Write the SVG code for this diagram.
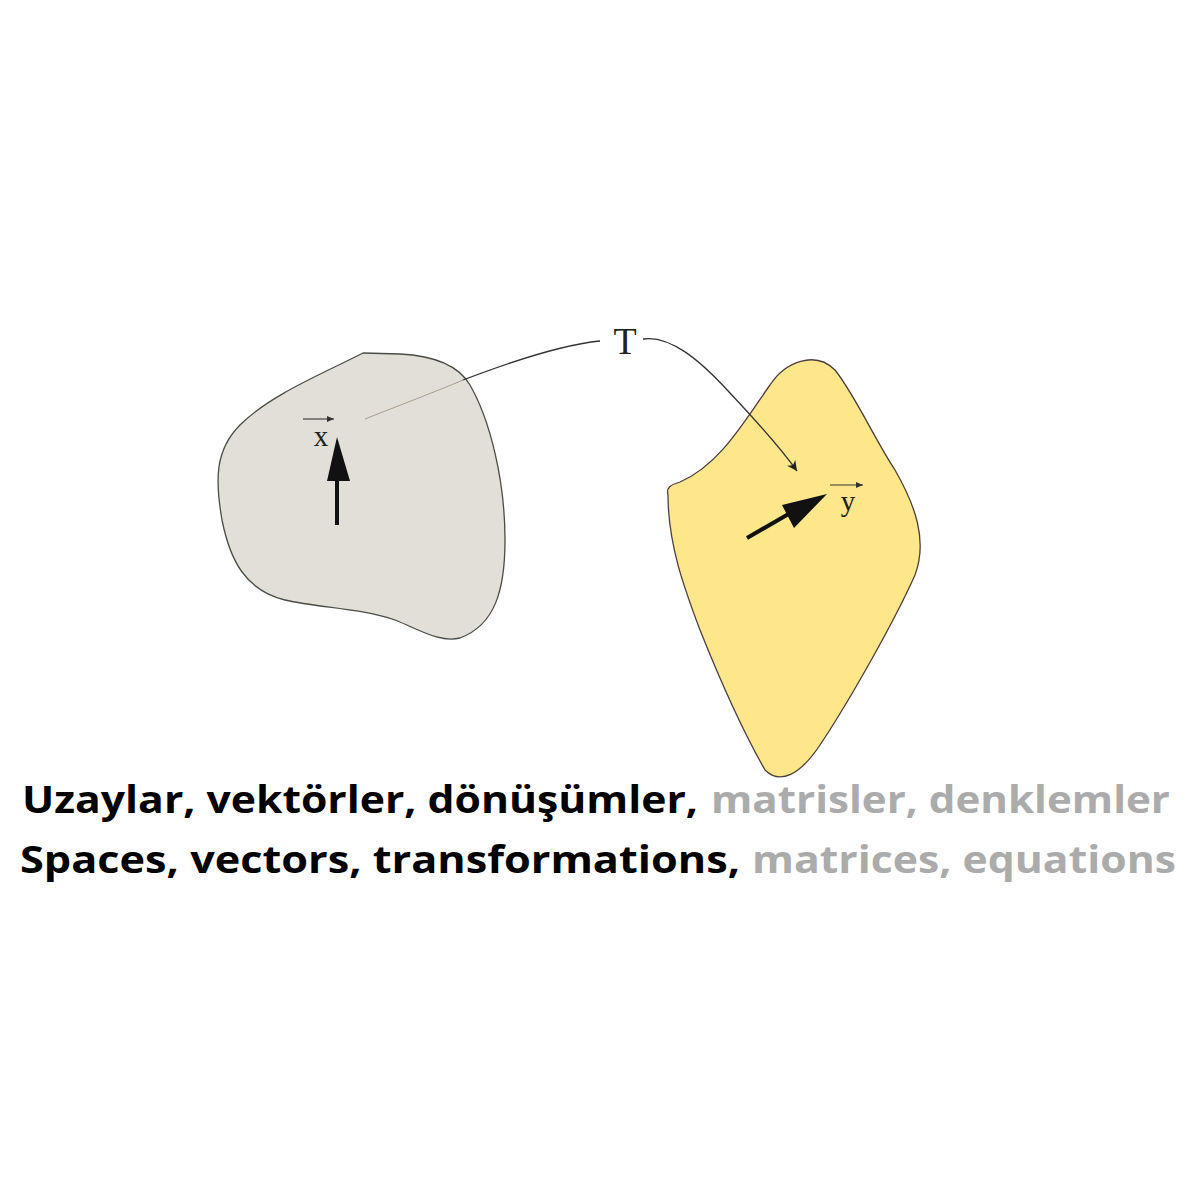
<svg xmlns="http://www.w3.org/2000/svg" width="1200" height="1200" viewBox="0 0 1200 1200">
<defs>
<style>
.sans{font-family:"Open Sans","Noto Sans",sans-serif;font-weight:bold;font-size:37px}
.blk{fill:#000}
.gry{fill:#ababab}
.serif{font-family:"Liberation Serif","Times New Roman",serif;fill:#222}
.thick{stroke:#111;stroke-width:4;fill:none}
.conn{stroke:#333;stroke-width:1.3;fill:none}
</style>
<marker id="ah" markerWidth="12" markerHeight="12" refX="10" refY="5" orient="auto" markerUnits="userSpaceOnUse">
<path d="M0,0 L10,5 L0,10 L3,5 Z" fill="#222"/>
</marker>
<marker id="sm" markerWidth="8" markerHeight="8" refX="7" refY="3" orient="auto" markerUnits="userSpaceOnUse">
<path d="M0,0 L7,3 L0,6 Z" fill="#333"/>
</marker>
</defs>
<rect width="1200" height="1200" fill="#fff"/>
<g id="space-x">
<path d="M363,353 L400,354 C440,356 460,368 470,385 C490,420 505,480 505,540 C505,590 495,625 460,638 C440,643 420,630 395,620 C360,608 320,608 285,600 C245,590 230,560 222,520 C215,480 215,450 240,425 C270,395 320,375 363,353 Z" fill="#e1dfd8" stroke="#4a4d44" stroke-width="1.3"/>
<line x1="337" y1="525" x2="337" y2="478" class="thick"/>
<path d="M327,481 L337,437 L350,481 Z" fill="#111"/>
<text x="321" y="446" class="serif" font-size="29" text-anchor="middle" fill="#555">x</text>
<line x1="303" y1="419" x2="334" y2="419" stroke="#444" stroke-width="1.2" marker-end="url(#sm)"/>
</g>
<g id="space-y">
<path d="M668,495 C666,488 670,485 680,482 C720,465 745,420 770,385 C785,362 815,350 835,370 C855,395 875,440 895,470 C915,505 928,540 915,575 C895,620 850,700 820,745 C800,775 780,785 765,770 C745,735 720,680 700,630 C685,590 668,545 668,495 Z" fill="#fee78a" stroke="#4d3f3f" stroke-width="1.3"/>
<line x1="747" y1="538" x2="792" y2="512" class="thick"/>
<path d="M782,505 L827,494 L794,528 Z" fill="#111"/>
<text x="848" y="511" class="serif" font-size="29" text-anchor="middle">y</text>
<line x1="830" y1="485" x2="863" y2="485" stroke="#333" stroke-width="1.2" marker-end="url(#sm)"/>
</g>
<g id="label-T">
<text x="625" y="354" class="serif" font-size="38" text-anchor="middle" fill="#111">T</text>
</g>
<g id="connectors">
<path d="M365,419 C400,405 435,392 463,380" stroke="#a89e90" stroke-width="1" fill="none"/>
<path d="M463,380 C510,362 560,345 600,341" class="conn"/>
<path d="M643,339 C670,335 700,360 730,393 C760,425 782,450 797,471" class="conn" marker-end="url(#ah)"/>
</g>
<g id="caption">
<text x="22" y="813" class="sans blk" textLength="676" lengthAdjust="spacingAndGlyphs">Uzaylar, vektörler, dönüşümler,</text>
<text x="711" y="813" class="sans gry" textLength="459" lengthAdjust="spacingAndGlyphs">matrisler, denklemler</text>
<text x="20" y="873" class="sans blk" textLength="720" lengthAdjust="spacingAndGlyphs">Spaces, vectors, transformations,</text>
<text x="752" y="873" class="sans gry" textLength="424" lengthAdjust="spacingAndGlyphs">matrices, equations</text>
</g>
</svg>
